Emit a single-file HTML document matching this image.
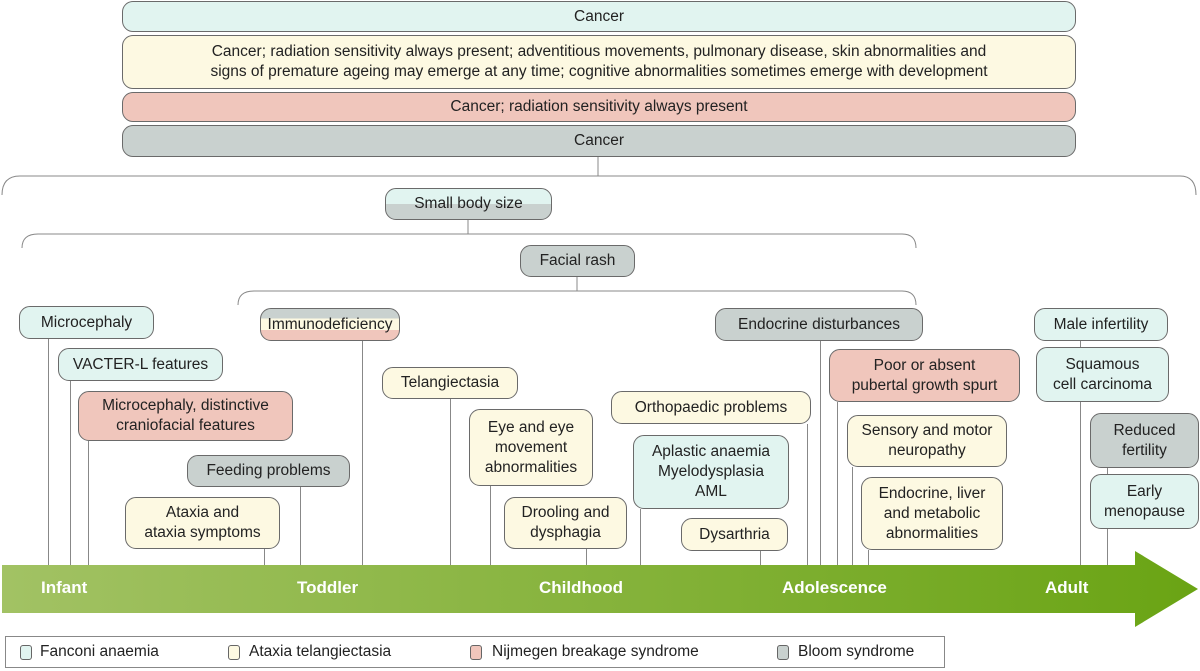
<!DOCTYPE html>
<html><head><meta charset="utf-8"><style>
body{margin:0;width:1200px;height:671px;position:relative;background:#fff;font-family:"Liberation Sans",sans-serif;overflow:hidden}
.b{position:absolute;box-sizing:border-box;border:1.3px solid #6a6a6a;border-radius:11px;display:flex;align-items:center;justify-content:center;text-align:center;font-size:15.5px;line-height:20px;color:#222}
.F{background:#e1f4f0}.A{background:#fdf9e2}.N{background:#f0c6bc}.B{background:#c9d1cf}
.v{position:absolute;width:1px;background:#888}
.t{position:absolute;top:578px;color:#fff;font-weight:bold;font-size:17px}
</style></head><body>
<svg width="1200" height="671" style="position:absolute;left:0;top:0">
<defs><linearGradient id="g" x1="0" x2="1"><stop offset="0" stop-color="#a2c264"/><stop offset="1" stop-color="#6aa414"/></linearGradient></defs>
<polygon points="2,565 1135,565 1135,551 1198,589 1135,627 1135,613 2,613" fill="url(#g)"/>
<g fill="none" stroke="#888" stroke-width="1">
<path d="M598,157 V176"/><path d="M2,195 Q2,176 20,176 H1180 Q1196,176 1196,195"/>
<path d="M468,220 V234"/><path d="M22,248 Q22,234 38,234 H902 Q916,234 916,248"/>
<path d="M577,277 V291"/><path d="M238,305 Q238,291 254,291 H902 Q916,291 916,305"/>
</g>
</svg>
<div class="v" style="left:48px;top:339px;height:226px"></div>
<div class="v" style="left:70px;top:381px;height:184px"></div>
<div class="v" style="left:88px;top:441px;height:124px"></div>
<div class="v" style="left:300px;top:487px;height:78px"></div>
<div class="v" style="left:264px;top:549px;height:16px"></div>
<div class="v" style="left:362px;top:341px;height:224px"></div>
<div class="v" style="left:450px;top:399px;height:166px"></div>
<div class="v" style="left:490px;top:486px;height:79px"></div>
<div class="v" style="left:586px;top:549px;height:16px"></div>
<div class="v" style="left:807px;top:424px;height:141px"></div>
<div class="v" style="left:640px;top:509px;height:56px"></div>
<div class="v" style="left:760px;top:551px;height:14px"></div>
<div class="v" style="left:820px;top:341px;height:224px"></div>
<div class="v" style="left:837px;top:402px;height:163px"></div>
<div class="v" style="left:852px;top:467px;height:98px"></div>
<div class="v" style="left:868px;top:550px;height:15px"></div>
<div class="v" style="left:1080px;top:341px;height:224px"></div>
<div class="v" style="left:1107px;top:468px;height:97px"></div>

<div class="b F" style="left:122px;top:1px;width:954px;height:31px">Cancer</div>
<div class="b A" style="left:122px;top:35px;width:954px;height:54px">Cancer; radiation sensitivity always present; adventitious movements, pulmonary disease, skin abnormalities and<br>signs of premature ageing may emerge at any time; cognitive abnormalities sometimes emerge with development</div>
<div class="b N" style="left:122px;top:92px;width:954px;height:30px">Cancer; radiation sensitivity always present</div>
<div class="b B" style="left:122px;top:125px;width:954px;height:32px">Cancer</div>

<div class="b" style="left:385px;top:188px;width:167px;height:32px;background:linear-gradient(#e1f4f0 50%,#c9d1cf 50%)">Small body size</div>
<div class="b B" style="left:520px;top:245px;width:115px;height:32px">Facial rash</div>

<div class="b F" style="left:19px;top:306px;width:135px;height:33px">Microcephaly</div>
<div class="b F" style="left:58px;top:348px;width:165px;height:33px">VACTER-L features</div>
<div class="b N" style="left:78px;top:391px;width:215px;height:50px">Microcephaly, distinctive<br>craniofacial features</div>
<div class="b B" style="left:187px;top:455px;width:163px;height:32px">Feeding problems</div>
<div class="b A" style="left:125px;top:497px;width:155px;height:52px">Ataxia and<br>ataxia symptoms</div>
<div class="b" style="left:260px;top:308px;width:140px;height:33px;background:linear-gradient(#c9d1cf 30%,#fdf9e2 30%,#fdf9e2 68%,#f0c6bc 68%)">Immunodeficiency</div>
<div class="b A" style="left:382px;top:367px;width:136px;height:32px">Telangiectasia</div>
<div class="b A" style="left:469px;top:409px;width:124px;height:77px">Eye and eye<br>movement<br>abnormalities</div>
<div class="b A" style="left:504px;top:497px;width:123px;height:52px">Drooling and<br>dysphagia</div>
<div class="b A" style="left:611px;top:391px;width:200px;height:33px">Orthopaedic problems</div>
<div class="b F" style="left:633px;top:435px;width:156px;height:74px">Aplastic anaemia<br>Myelodysplasia<br>AML</div>
<div class="b A" style="left:681px;top:518px;width:107px;height:33px">Dysarthria</div>
<div class="b B" style="left:715px;top:308px;width:208px;height:33px">Endocrine disturbances</div>
<div class="b N" style="left:829px;top:349px;width:191px;height:53px">Poor or absent<br>pubertal growth spurt</div>
<div class="b A" style="left:847px;top:415px;width:160px;height:52px">Sensory and motor<br>neuropathy</div>
<div class="b A" style="left:861px;top:477px;width:142px;height:73px">Endocrine, liver<br>and metabolic<br>abnormalities</div>
<div class="b F" style="left:1034px;top:308px;width:134px;height:33px">Male infertility</div>
<div class="b F" style="left:1036px;top:347px;width:133px;height:55px">Squamous<br>cell carcinoma</div>
<div class="b B" style="left:1090px;top:413px;width:109px;height:55px">Reduced<br>fertility</div>
<div class="b F" style="left:1090px;top:474px;width:109px;height:55px">Early<br>menopause</div>

<div class="t" style="left:41px">Infant</div>
<div class="t" style="left:297px">Toddler</div>
<div class="t" style="left:539px">Childhood</div>
<div class="t" style="left:782px">Adolescence</div>
<div class="t" style="left:1045px">Adult</div>

<div style="position:absolute;left:5px;top:636px;width:940px;height:32px;box-sizing:border-box;border:1px solid #888;font-size:15.5px;color:#222">
<span style="position:absolute;left:14px;top:8px;width:10px;height:13px;border:1px solid #666;border-radius:3px" class="F"></span><span style="position:absolute;left:34px;top:6px">Fanconi anaemia</span>
<span style="position:absolute;left:222px;top:8px;width:10px;height:13px;border:1px solid #666;border-radius:3px" class="A"></span><span style="position:absolute;left:243px;top:6px">Ataxia telangiectasia</span>
<span style="position:absolute;left:464px;top:8px;width:10px;height:13px;border:1px solid #666;border-radius:3px" class="N"></span><span style="position:absolute;left:486px;top:6px">Nijmegen breakage syndrome</span>
<span style="position:absolute;left:771px;top:8px;width:10px;height:13px;border:1px solid #666;border-radius:3px" class="B"></span><span style="position:absolute;left:792px;top:6px">Bloom syndrome</span>
</div>
</body></html>
